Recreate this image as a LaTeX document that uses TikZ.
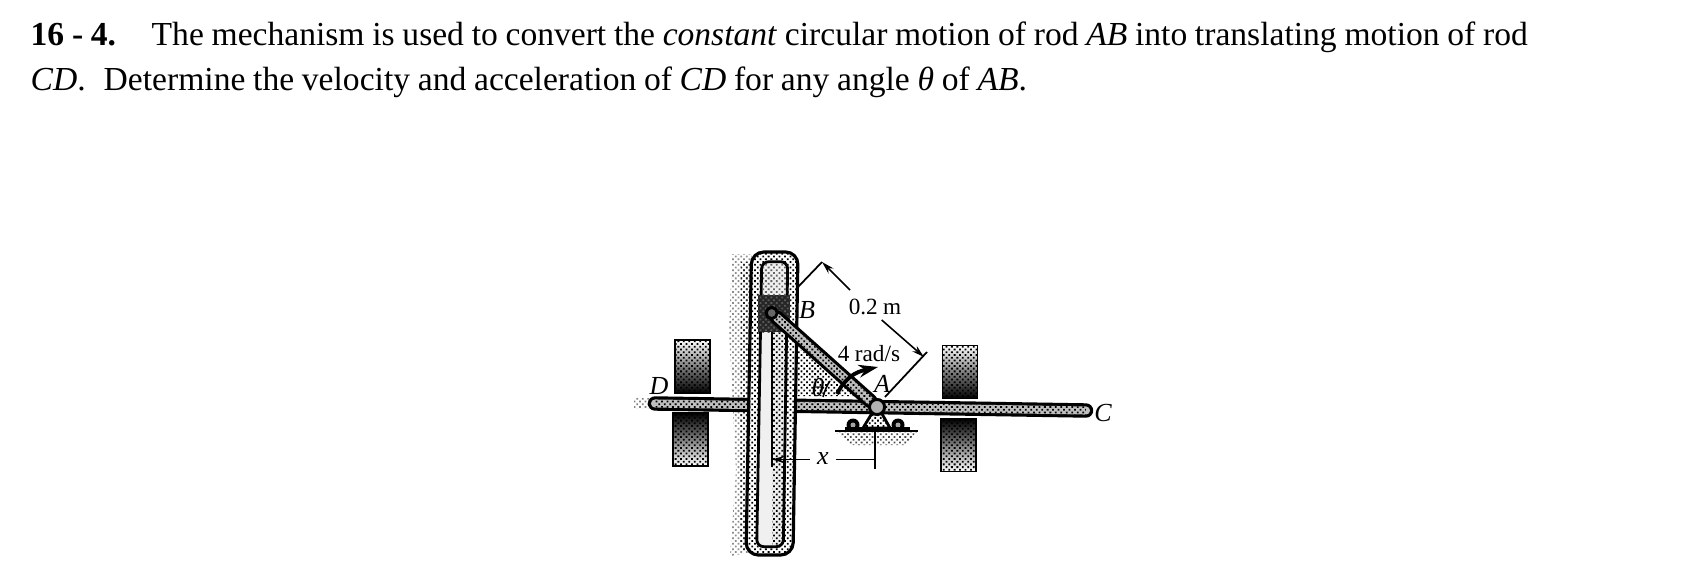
\documentclass[tikz,border=0pt]{standalone}
\usepackage{fontspec}
\setmainfont[WordSpace=0.92]{Liberation Serif}
\usetikzlibrary{patterns.meta,arrows.meta,calc}

\begin{document}
\begin{tikzpicture}[x=0.01cm, y=-0.01cm,
                    every node/.style={inner sep=0pt},
                    outline/.style={draw, line width=.8pt, line join=round},
                    grain/.style={pattern={Dots[distance=1.1pt, radius=.36pt, angle=45]}, pattern color=black},
                    rod/.style={line width=.9pt, double=black!25, double distance=2.3pt, line cap=round},
                    guide up/.style={draw, line width=.5pt, minimum width=.35cm, minimum height=.53cm, top color=white, middle color=black!70, bottom color=black, postaction={grain}},
                    guide down/.style={draw, line width=.5pt, minimum width=.35cm, minimum height=.53cm, top color=black, middle color=black!70, bottom color=white, postaction={grain}},
                    pin/.style={circle, outline, fill=black!30, minimum size=.15cm},
                    dim/.style={line width=.45pt, -{Stealth[length=3.6pt, width=2pt]}},
                    ext/.style={line width=.5pt},
                    dimlabel/.style={font=\fontsize{6.6}{8}\selectfont},
                    pointlabel/.style={font=\fontsize{7.4}{9}\selectfont\itshape},
                    problem/.style={anchor=base west, font=\fontsize{9.55}{12}\selectfont}]

  \useasboundingbox (0,0) rectangle (1682,582);

  % problem text
  \node[problem] (num) at (30,46) {\textbf{16 - 4.}};
  \node[problem] (line1) at (151,46) {The mechanism is used to convert the \textit{constant} circular motion of rod \textit{AB} into translating motion of rod};
  \node[problem] (cd) at (30,91) {\textit{CD}.};
  \node[problem] (line2) at (103,91) {Determine the velocity and acceleration of \textit{CD} for any angle \textit{θ} of \textit{AB}.};

  % wall stipple
  \fill[grain, pattern color=black!45] (732,254) -- (752,254) -- (748,553) -- (730,556) -- (736,470) -- (729,330) -- cycle;
  \fill[grain, pattern color=black!85] (741,262) -- (752,262) -- (748,550) -- (740,550) -- cycle;
  \fill[grain, pattern color=black!50] (634,398) rectangle (652,408);

  % guides
  \node[guide up] (g1) at (692.5,366.5) {};
  \node[guide down] (g2) at (690.5,439.5) {};
  \node[guide up] (g3) at (960,372) {};
  \node[guide down] (g4) at (958.5,445) {};

  % rod CD
  \coordinate (D) at (655,403.5);
  \coordinate (C) at (1086,410.5);
  \draw[rod] (D) -- (C);
  \fill[grain] ($(D)!1.15pt!90:(C)$) -- ($(C)!1.15pt!-90:(D)$) -- ($(C)!1.15pt!90:(D)$) -- ($(D)!1.15pt!-90:(C)$) -- cycle;

  % frame
  \draw[outline, line width=.9pt, fill=white, rounded corners=3.5pt, postaction={grain}]
    (751.5,252) -- (798,252) -- (793,555) -- (746,555) -- cycle;
  \draw[outline, fill=black!6, rounded corners=2pt]
    (761.7,261.7) -- (787.7,261.7) -- (783.3,546.7) -- (756.7,546.7) -- cycle;
  \fill[grain, pattern color=black!60] (763,263) rectangle (787,295);
  \fill[grain] (773,332) -- (787,332) -- (783,545) -- (772,545) -- cycle;

  % block B
  \fill[black!85] (758,295) rectangle (790,332);
  \fill[grain, pattern color=black!65] (758,295) rectangle (790,332);

  % stipple under AB
  \fill[grain] (797,347) -- (865,396) -- (797,396) -- cycle;

  % support
  \fill[black] (853,425) circle (6.5);
  \fill[black] (898,425) circle (6.5);
  \fill[black!35] (853,425) circle (2.5);
  \fill[black!35] (898,425) circle (2.5);
  \draw[outline, fill=white, postaction={grain}] (863,428) -- (877,405) -- (890,428) -- cycle;
  \fill[black] (845,427) rectangle (910,430);
  \draw[line width=.8pt] (835,431) -- (918,431);
  \fill[grain, pattern color=black!70] (836,432) -- (917,432) -- (904,445) -- (850,445) -- cycle;

  % rod AB
  \node[pin] (A) at (877,407) {};
  \node[pin, fill=black!60, minimum size=.11cm] (B) at (771.7,313) {};
  \draw[rod] (B) -- (A);
  \fill[grain] ($(B)!1.15pt!90:(A)$) -- ($(A)!1.15pt!-90:(B)$) -- ($(A)!1.15pt!90:(B)$) -- ($(B)!1.15pt!-90:(A)$) -- cycle;
  \node[pin] at (A) {};
  \node[pin, fill=black!60, minimum size=.11cm] at (B) {};

  % angular velocity and angle
  \coordinate (w1) at (837,394);
  \coordinate (w2) at (878,367);
  \coordinate (t1) at (823,397);
  \coordinate (t2) at (830,381);
  \draw[line width=1.1pt, -{Stealth[length=5.5pt, width=3.6pt]}] (w1) .. controls (845,378) and (855,372) .. (w2);
  \draw[line width=.45pt] (t1) .. controls (825,390) and (827,385) .. (t2);

  % dimension 0.2 m
  \node[dimlabel] (len) at (875,307) {0.2 m};
  \node[dimlabel] (rate) at (869,354) {4 rad/s};
  \coordinate (p1) at (798,287);
  \coordinate (p2) at (822,262);
  \coordinate (p3) at (850,290);
  \coordinate (q1) at (885,397);
  \coordinate (q2) at (927,352);
  \coordinate (q3) at (881.7,320);
  \coordinate (q4) at (924,357);
  \draw[ext] (p1) -- (p2);
  \draw[ext] (q1) -- (q2);
  \draw[dim] (p3) -- (p2);
  \draw[dim] (q3) -- (q4);

  % dimension x
  \coordinate (x1) at (771.7,332);
  \coordinate (x2) at (771.7,467);
  \coordinate (x3) at (875,430);
  \coordinate (x4) at (875,469);
  \coordinate (x5) at (771.7,459.5);
  \coordinate (x6) at (875,459.5);
  \node[pointlabel, inner xsep=1.8pt] (xlab) at (823,459) {x};
  \draw[ext] (x1) -- (x2);
  \draw[ext] (x3) -- (x4);
  \draw[dim] (xlab.west |- x5) -- (x5);
  \draw[ext] (xlab.east |- x6) -- (x6);

  % letters
  \node[pointlabel] (lblD) at (659,386) {D};
  \node[pointlabel] (lblB) at (807,310) {B};
  \node[pointlabel] (lblA) at (882,384) {A};
  \node[pointlabel] (lblC) at (1103,413) {C};
  \node[pointlabel] (lblT) at (818,388) {θ};
\end{tikzpicture}
\end{document}
